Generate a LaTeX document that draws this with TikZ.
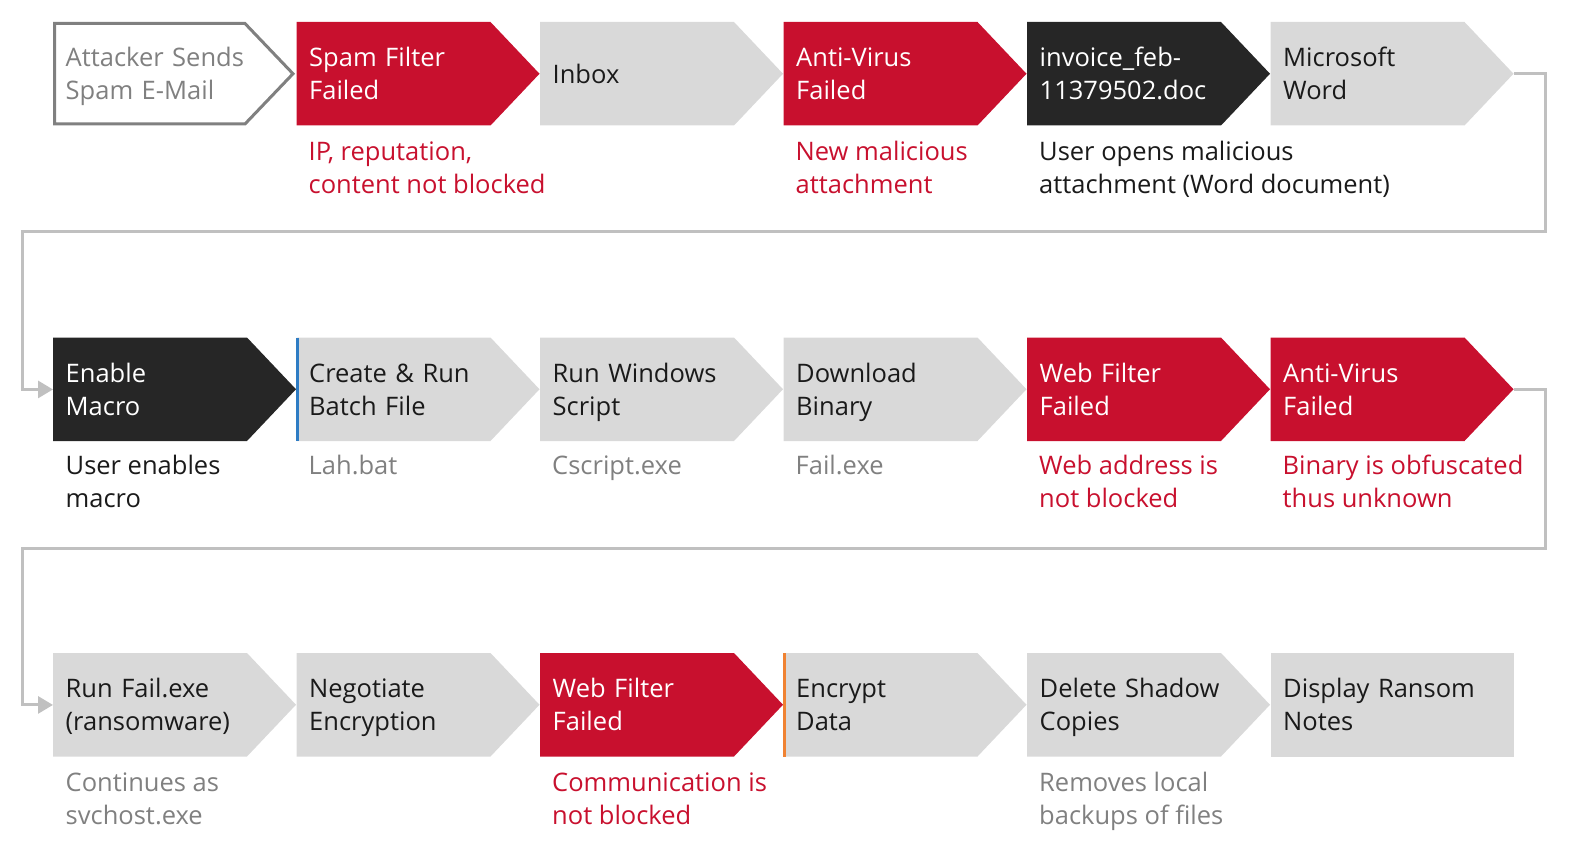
\documentclass[tikz,border=0pt]{standalone}
\usepackage{fontspec}
\setmainfont{Open Sans}
\usetikzlibrary{arrows.meta}
\definecolor{cred}{HTML}{C8102E}
\definecolor{cdark}{HTML}{262626}
\definecolor{cgray}{HTML}{D9D9D9}
\definecolor{ctxtgray}{HTML}{808080}
\definecolor{cline}{HTML}{C0C0C0}
\definecolor{cblue}{HTML}{2E7CC4}
\definecolor{corange}{HTML}{F08232}
\definecolor{cblack}{HTML}{1A1A1A}
\newcommand\chevshape[3]{\fill[#3] (#1,#2) -- ++(194,0) -- ++(49,51.75) -- ++(-49,51.75) -- ++(-194,0) -- cycle;}
\newcommand\bst{\vrule height 26pt depth 7pt width 0pt}
\begin{document}
\begin{tikzpicture}[x=1pt,y=-1pt,
  font=\fontsize{25.5}{33}\selectfont,
  boxtext/.style={anchor=north west, minimum width=243pt, minimum height=103.5pt,
    inner xsep=12.5pt, inner ysep=0pt, text width=218pt, align=left},
  captext/.style={anchor=north west, inner sep=0pt, align=left},
  conn/.style={draw=cline, line width=3pt, -{Triangle[length=15pt,width=17pt]}}]
\useasboundingbox (0,0) rectangle (1569,853);
% ---------- row 1 ----------
\draw[ctxtgray, line width=3pt, fill=white] (54.5,23.5) -- (245,23.5) -- (293,73.75) -- (245,124) -- (54.5,124) -- cycle;
\chevshape{296.5}{22}{cred}
\chevshape{540}{22}{cgray}
\chevshape{783.5}{22}{cred}
\chevshape{1027}{22}{cdark}
\chevshape{1270.5}{22}{cgray}
\node[boxtext, text=ctxtgray] (r1c1) at (53,22) {\bst Attacker Sends\\Spam E-Mail\bst};
\node[boxtext, text=white] (r1c2) at (296.5,22) {\bst Spam Filter\\Failed\bst};
\node[boxtext, text=cblack] (r1c3) at (540,22) {\bst Inbox};
\node[boxtext, text=white] (r1c4) at (783.5,22) {\bst Anti-Virus\\Failed\bst};
\node[boxtext, text=white] (r1c5) at (1027,22) {\bst invoice\_feb-\\11379502.doc\bst};
\node[boxtext, text=cblack] (r1c6) at (1270.5,22) {\bst Microsoft\\Word\bst};
\node[captext, text=cred] (c12) at (308.5,137) {\strut IP, reputation,\\content not blocked};
\node[captext, text=cred] (c14) at (795.5,137) {\strut New malicious\\attachment};
\node[captext, text=cblack] (c15) at (1039,137) {\strut User opens malicious\\attachment (Word document)};
% ---------- row 2 ----------
\chevshape{53}{337.5}{cdark}
\chevshape{296.5}{337.5}{cgray}
\chevshape{540}{337.5}{cgray}
\chevshape{783.5}{337.5}{cgray}
\chevshape{1027}{337.5}{cred}
\chevshape{1270.5}{337.5}{cred}
\draw[cblue, line width=3pt] (297.5,337.5) -- (297.5,441);
\node[boxtext, text=white] (r2c1) at (53,337.5) {\bst Enable\\Macro\bst};
\node[boxtext, text=cblack] (r2c2) at (296.5,337.5) {\bst Create \& Run\\Batch File\bst};
\node[boxtext, text=cblack] (r2c3) at (540,337.5) {\bst Run Windows\\Script\bst};
\node[boxtext, text=cblack] (r2c4) at (783.5,337.5) {\bst Download\\Binary\bst};
\node[boxtext, text=white] (r2c5) at (1027,337.5) {\bst Web Filter\\Failed\bst};
\node[boxtext, text=white] (r2c6) at (1270.5,337.5) {\bst Anti-Virus\\Failed\bst};
\node[captext, text=cblack] (c21) at (65.5,451) {\strut User enables\\macro};
\node[captext, text=ctxtgray] (c22) at (308.5,451) {\strut Lah.bat};
\node[captext, text=ctxtgray] (c23) at (552,451) {\strut Cscript.exe};
\node[captext, text=ctxtgray] (c24) at (795.5,451) {\strut Fail.exe};
\node[captext, text=cred] (c25) at (1039,451) {\strut Web address is\\not blocked};
\node[captext, text=cred] (c26) at (1282.5,451) {\strut Binary is obfuscated\\thus unknown};
% ---------- row 3 ----------
\chevshape{53}{653}{cgray}
\chevshape{296.5}{653}{cgray}
\chevshape{540}{653}{cred}
\chevshape{783.5}{653}{cgray}
\chevshape{1027}{653}{cgray}
\fill[cgray] (1270.5,653) rectangle ++(243,103.5);
\draw[corange, line width=3pt] (784.5,653) -- (784.5,756.5);
\node[boxtext, text=cblack] (r3c1) at (53,653) {\bst Run Fail.exe\\(ransomware)\bst};
\node[boxtext, text=cblack] (r3c2) at (296.5,653) {\bst Negotiate\\Encryption\bst};
\node[boxtext, text=white] (r3c3) at (540,653) {\bst Web Filter\\Failed\bst};
\node[boxtext, text=cblack] (r3c4) at (783.5,653) {\bst Encrypt\\Data\bst};
\node[boxtext, text=cblack] (r3c5) at (1027,653) {\bst Delete Shadow\\Copies\bst};
\node[boxtext, text=cblack] (r3c6) at (1270.5,653) {\bst Display Ransom\\Notes\bst};
\node[captext, text=ctxtgray] (c31) at (65.5,768) {\strut Continues as\\svchost.exe};
\node[captext, text=cred] (c33) at (552,768) {\strut Communication is\\not blocked};
\node[captext, text=ctxtgray] (c35) at (1039,768) {\strut Removes local\\backups of files};
% ---------- connectors ----------
\coordinate (turnA) at (22,232);
\coordinate (turnB) at (22,548);
\draw[conn] (r1c6.east) -- ++(32,0) |- (turnA) |- (r2c1.west);
\draw[conn] (r2c6.east) -- ++(32,0) |- (turnB) |- (r3c1.west);
\end{tikzpicture}
\end{document}
